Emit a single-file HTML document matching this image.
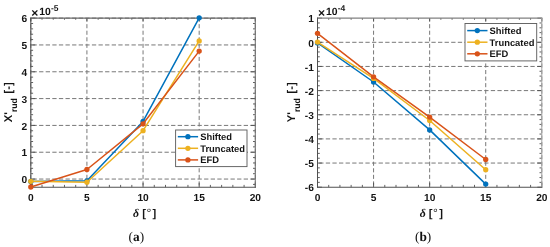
<!DOCTYPE html>
<html><head><meta charset="utf-8"><title>Figure</title>
<style>
html,body{margin:0;padding:0;background:#fff;}
svg{display:block}
text{font-family:"Liberation Sans",sans-serif;fill:#141414;text-rendering:geometricPrecision;}
.tk{font-size:10.2px;font-weight:bold;}
.lg{font-size:9.4px;font-weight:bold;}
.lb{font-size:11.2px;font-weight:bold;}
.dl{font-family:"Liberation Serif","DejaVu Serif",serif;font-style:italic;font-weight:bold;font-size:11.8px}
.cap{font-family:"Liberation Serif",serif;font-size:13.3px;fill:#111}
</style></head><body>
<svg width="550" height="247" viewBox="0 0 550 247">
<rect width="550" height="247" fill="#fff"/>
<g stroke="#787878" stroke-width="1" stroke-dasharray="4.1 2.45" stroke-dashoffset="0.5" fill="none"><line x1="30.80" y1="18.10" x2="30.80" y2="187.20"/><line x1="86.92" y1="18.10" x2="86.92" y2="187.20"/><line x1="143.05" y1="18.10" x2="143.05" y2="187.20"/><line x1="199.18" y1="18.10" x2="199.18" y2="187.20"/><line x1="255.30" y1="18.10" x2="255.30" y2="187.20"/></g>
<g stroke="#787878" stroke-width="1" stroke-dasharray="4.3 2.3" stroke-dashoffset="4.9" fill="none"><line x1="30.80" y1="179.05" x2="255.30" y2="179.05"/><line x1="30.80" y1="152.23" x2="255.30" y2="152.23"/><line x1="30.80" y1="125.41" x2="255.30" y2="125.41"/><line x1="30.80" y1="98.59" x2="255.30" y2="98.59"/><line x1="30.80" y1="71.77" x2="255.30" y2="71.77"/><line x1="30.80" y1="44.95" x2="255.30" y2="44.95"/><line x1="30.80" y1="18.13" x2="255.30" y2="18.13"/></g>
<g stroke="#505050" stroke-width="0.9" fill="none"><line x1="30.80" y1="187.20" x2="30.80" y2="182.80"/><line x1="30.80" y1="18.10" x2="30.80" y2="21.27"/><line x1="42.02" y1="187.20" x2="42.02" y2="184.90"/><line x1="42.02" y1="18.10" x2="42.02" y2="19.76"/><line x1="53.25" y1="187.20" x2="53.25" y2="184.90"/><line x1="53.25" y1="18.10" x2="53.25" y2="19.76"/><line x1="64.47" y1="187.20" x2="64.47" y2="184.90"/><line x1="64.47" y1="18.10" x2="64.47" y2="19.76"/><line x1="75.70" y1="187.20" x2="75.70" y2="184.90"/><line x1="75.70" y1="18.10" x2="75.70" y2="19.76"/><line x1="86.92" y1="187.20" x2="86.92" y2="182.80"/><line x1="86.92" y1="18.10" x2="86.92" y2="21.27"/><line x1="98.15" y1="187.20" x2="98.15" y2="184.90"/><line x1="98.15" y1="18.10" x2="98.15" y2="19.76"/><line x1="109.38" y1="187.20" x2="109.38" y2="184.90"/><line x1="109.38" y1="18.10" x2="109.38" y2="19.76"/><line x1="120.60" y1="187.20" x2="120.60" y2="184.90"/><line x1="120.60" y1="18.10" x2="120.60" y2="19.76"/><line x1="131.82" y1="187.20" x2="131.82" y2="184.90"/><line x1="131.82" y1="18.10" x2="131.82" y2="19.76"/><line x1="143.05" y1="187.20" x2="143.05" y2="182.80"/><line x1="143.05" y1="18.10" x2="143.05" y2="21.27"/><line x1="154.28" y1="187.20" x2="154.28" y2="184.90"/><line x1="154.28" y1="18.10" x2="154.28" y2="19.76"/><line x1="165.50" y1="187.20" x2="165.50" y2="184.90"/><line x1="165.50" y1="18.10" x2="165.50" y2="19.76"/><line x1="176.72" y1="187.20" x2="176.72" y2="184.90"/><line x1="176.72" y1="18.10" x2="176.72" y2="19.76"/><line x1="187.95" y1="187.20" x2="187.95" y2="184.90"/><line x1="187.95" y1="18.10" x2="187.95" y2="19.76"/><line x1="199.18" y1="187.20" x2="199.18" y2="182.80"/><line x1="199.18" y1="18.10" x2="199.18" y2="21.27"/><line x1="210.40" y1="187.20" x2="210.40" y2="184.90"/><line x1="210.40" y1="18.10" x2="210.40" y2="19.76"/><line x1="221.62" y1="187.20" x2="221.62" y2="184.90"/><line x1="221.62" y1="18.10" x2="221.62" y2="19.76"/><line x1="232.85" y1="187.20" x2="232.85" y2="184.90"/><line x1="232.85" y1="18.10" x2="232.85" y2="19.76"/><line x1="244.08" y1="187.20" x2="244.08" y2="184.90"/><line x1="244.08" y1="18.10" x2="244.08" y2="19.76"/><line x1="255.30" y1="187.20" x2="255.30" y2="182.80"/><line x1="255.30" y1="18.10" x2="255.30" y2="21.27"/><line x1="30.80" y1="184.41" x2="33.10" y2="184.41"/><line x1="255.30" y1="184.41" x2="253.00" y2="184.41"/><line x1="30.80" y1="179.05" x2="35.20" y2="179.05"/><line x1="255.30" y1="179.05" x2="250.90" y2="179.05"/><line x1="30.80" y1="173.69" x2="33.10" y2="173.69"/><line x1="255.30" y1="173.69" x2="253.00" y2="173.69"/><line x1="30.80" y1="168.32" x2="33.10" y2="168.32"/><line x1="255.30" y1="168.32" x2="253.00" y2="168.32"/><line x1="30.80" y1="162.96" x2="33.10" y2="162.96"/><line x1="255.30" y1="162.96" x2="253.00" y2="162.96"/><line x1="30.80" y1="157.59" x2="33.10" y2="157.59"/><line x1="255.30" y1="157.59" x2="253.00" y2="157.59"/><line x1="30.80" y1="152.23" x2="35.20" y2="152.23"/><line x1="255.30" y1="152.23" x2="250.90" y2="152.23"/><line x1="30.80" y1="146.87" x2="33.10" y2="146.87"/><line x1="255.30" y1="146.87" x2="253.00" y2="146.87"/><line x1="30.80" y1="141.50" x2="33.10" y2="141.50"/><line x1="255.30" y1="141.50" x2="253.00" y2="141.50"/><line x1="30.80" y1="136.14" x2="33.10" y2="136.14"/><line x1="255.30" y1="136.14" x2="253.00" y2="136.14"/><line x1="30.80" y1="130.77" x2="33.10" y2="130.77"/><line x1="255.30" y1="130.77" x2="253.00" y2="130.77"/><line x1="30.80" y1="125.41" x2="35.20" y2="125.41"/><line x1="255.30" y1="125.41" x2="250.90" y2="125.41"/><line x1="30.80" y1="120.05" x2="33.10" y2="120.05"/><line x1="255.30" y1="120.05" x2="253.00" y2="120.05"/><line x1="30.80" y1="114.68" x2="33.10" y2="114.68"/><line x1="255.30" y1="114.68" x2="253.00" y2="114.68"/><line x1="30.80" y1="109.32" x2="33.10" y2="109.32"/><line x1="255.30" y1="109.32" x2="253.00" y2="109.32"/><line x1="30.80" y1="103.95" x2="33.10" y2="103.95"/><line x1="255.30" y1="103.95" x2="253.00" y2="103.95"/><line x1="30.80" y1="98.59" x2="35.20" y2="98.59"/><line x1="255.30" y1="98.59" x2="250.90" y2="98.59"/><line x1="30.80" y1="93.23" x2="33.10" y2="93.23"/><line x1="255.30" y1="93.23" x2="253.00" y2="93.23"/><line x1="30.80" y1="87.86" x2="33.10" y2="87.86"/><line x1="255.30" y1="87.86" x2="253.00" y2="87.86"/><line x1="30.80" y1="82.50" x2="33.10" y2="82.50"/><line x1="255.30" y1="82.50" x2="253.00" y2="82.50"/><line x1="30.80" y1="77.13" x2="33.10" y2="77.13"/><line x1="255.30" y1="77.13" x2="253.00" y2="77.13"/><line x1="30.80" y1="71.77" x2="35.20" y2="71.77"/><line x1="255.30" y1="71.77" x2="250.90" y2="71.77"/><line x1="30.80" y1="66.41" x2="33.10" y2="66.41"/><line x1="255.30" y1="66.41" x2="253.00" y2="66.41"/><line x1="30.80" y1="61.04" x2="33.10" y2="61.04"/><line x1="255.30" y1="61.04" x2="253.00" y2="61.04"/><line x1="30.80" y1="55.68" x2="33.10" y2="55.68"/><line x1="255.30" y1="55.68" x2="253.00" y2="55.68"/><line x1="30.80" y1="50.31" x2="33.10" y2="50.31"/><line x1="255.30" y1="50.31" x2="253.00" y2="50.31"/><line x1="30.80" y1="44.95" x2="35.20" y2="44.95"/><line x1="255.30" y1="44.95" x2="250.90" y2="44.95"/><line x1="30.80" y1="39.59" x2="33.10" y2="39.59"/><line x1="255.30" y1="39.59" x2="253.00" y2="39.59"/><line x1="30.80" y1="34.22" x2="33.10" y2="34.22"/><line x1="255.30" y1="34.22" x2="253.00" y2="34.22"/><line x1="30.80" y1="28.86" x2="33.10" y2="28.86"/><line x1="255.30" y1="28.86" x2="253.00" y2="28.86"/><line x1="30.80" y1="23.49" x2="33.10" y2="23.49"/><line x1="255.30" y1="23.49" x2="253.00" y2="23.49"/><line x1="30.80" y1="18.13" x2="35.20" y2="18.13"/><line x1="255.30" y1="18.13" x2="250.90" y2="18.13"/></g>
<g fill="none" stroke-width="1.05" stroke-linecap="square"><line x1="30.80" y1="18.10" x2="255.30" y2="18.10" stroke="#6a6a6a"/><line x1="255.30" y1="18.10" x2="255.30" y2="187.20" stroke="#707070"/><line x1="30.80" y1="18.10" x2="30.80" y2="187.20" stroke="#505050"/><line x1="30.80" y1="187.20" x2="255.30" y2="187.20" stroke="#505050"/></g>
<polyline points="30.80,181.40 86.92,180.80 143.05,121.40 199.18,17.80" fill="none" stroke="#0072BD" stroke-width="1.5" stroke-linejoin="round"/>
<circle cx="30.80" cy="181.40" r="2.65" fill="#0072BD"/>
<circle cx="86.92" cy="180.80" r="2.65" fill="#0072BD"/>
<circle cx="143.05" cy="121.40" r="2.65" fill="#0072BD"/>
<circle cx="199.18" cy="17.80" r="2.65" fill="#0072BD"/>
<polyline points="30.80,181.30 86.92,182.20 143.05,130.70 199.18,40.90" fill="none" stroke="#EDB120" stroke-width="1.5" stroke-linejoin="round"/>
<circle cx="30.80" cy="181.30" r="2.65" fill="#EDB120"/>
<circle cx="86.92" cy="182.20" r="2.65" fill="#EDB120"/>
<circle cx="143.05" cy="130.70" r="2.65" fill="#EDB120"/>
<circle cx="199.18" cy="40.90" r="2.65" fill="#EDB120"/>
<polyline points="30.80,187.00 86.92,169.50 143.05,123.80 199.18,51.10" fill="none" stroke="#D95319" stroke-width="1.5" stroke-linejoin="round"/>
<circle cx="30.80" cy="187.00" r="2.65" fill="#D95319"/>
<circle cx="86.92" cy="169.50" r="2.65" fill="#D95319"/>
<circle cx="143.05" cy="123.80" r="2.65" fill="#D95319"/>
<circle cx="199.18" cy="51.10" r="2.65" fill="#D95319"/>
<g class="tk"><text x="30.80" y="201.15" text-anchor="middle">0</text><text x="86.92" y="201.15" text-anchor="middle">5</text><text x="143.05" y="201.15" text-anchor="middle">10</text><text x="199.18" y="201.15" text-anchor="middle">15</text><text x="255.30" y="201.15" text-anchor="middle">20</text><text x="27.20" y="183.30" text-anchor="end">0</text><text x="27.20" y="156.48" text-anchor="end">1</text><text x="27.20" y="129.66" text-anchor="end">2</text><text x="27.20" y="102.84" text-anchor="end">3</text><text x="27.20" y="76.02" text-anchor="end">4</text><text x="27.20" y="49.20" text-anchor="end">5</text><text x="27.20" y="22.38" text-anchor="end">6</text></g>
<text class="tk" x="31.20" y="16.50" style="font-size:12.2px">×</text><text class="tk" x="39.30" y="15.30" style="font-size:10.4px">10</text><text class="tk" x="51.00" y="10.70" style="font-size:8.5px">-5</text>
<text class="lb" x="144.65" y="216.60" text-anchor="middle"><tspan class="dl">δ</tspan> [<tspan font-weight="normal" dx="0.5" dy="0.8" style="font-size:12px">°</tspan><tspan dx="1.3" dy="-0.8">]</tspan></text>
<text class="lb" transform="translate(12.10,102.25) rotate(-90)" text-anchor="middle">X'<tspan dy="5.0" font-size="8.7">rud</tspan><tspan dy="-5.0" dx="1.5"> [-]</tspan></text>
<rect x="175.60" y="130.00" width="71.40" height="36.60" fill="#fff" stroke="#606060" stroke-width="0.95"/>
<line x1="177.80" y1="136.70" x2="198.10" y2="136.70" stroke="#0072BD" stroke-width="1.5"/>
<circle cx="187.90" cy="136.70" r="2.65" fill="#0072BD"/>
<text class="lg" x="200.20" y="140.00">Shifted</text>
<line x1="177.80" y1="148.30" x2="198.10" y2="148.30" stroke="#EDB120" stroke-width="1.5"/>
<circle cx="187.90" cy="148.30" r="2.65" fill="#EDB120"/>
<text class="lg" x="200.20" y="151.60">Truncated</text>
<line x1="177.80" y1="159.90" x2="198.10" y2="159.90" stroke="#D95319" stroke-width="1.5"/>
<circle cx="187.90" cy="159.90" r="2.65" fill="#D95319"/>
<text class="lg" x="200.20" y="163.20">EFD</text>
<g stroke="#787878" stroke-width="1" stroke-dasharray="4.1 2.45" stroke-dashoffset="0.5" fill="none"><line x1="317.50" y1="18.10" x2="317.50" y2="187.20"/><line x1="373.57" y1="18.10" x2="373.57" y2="187.20"/><line x1="429.65" y1="18.10" x2="429.65" y2="187.20"/><line x1="485.72" y1="18.10" x2="485.72" y2="187.20"/><line x1="541.80" y1="18.10" x2="541.80" y2="187.20"/></g>
<g stroke="#787878" stroke-width="1" stroke-dasharray="4.3 2.3" stroke-dashoffset="4.9" fill="none"><line x1="317.50" y1="163.05" x2="541.80" y2="163.05"/><line x1="317.50" y1="138.90" x2="541.80" y2="138.90"/><line x1="317.50" y1="114.75" x2="541.80" y2="114.75"/><line x1="317.50" y1="90.60" x2="541.80" y2="90.60"/><line x1="317.50" y1="66.45" x2="541.80" y2="66.45"/><line x1="317.50" y1="42.30" x2="541.80" y2="42.30"/></g>
<g stroke="#505050" stroke-width="0.9" fill="none"><line x1="317.50" y1="187.20" x2="317.50" y2="182.80"/><line x1="317.50" y1="18.10" x2="317.50" y2="21.27"/><line x1="328.71" y1="187.20" x2="328.71" y2="184.90"/><line x1="328.71" y1="18.10" x2="328.71" y2="19.76"/><line x1="339.93" y1="187.20" x2="339.93" y2="184.90"/><line x1="339.93" y1="18.10" x2="339.93" y2="19.76"/><line x1="351.14" y1="187.20" x2="351.14" y2="184.90"/><line x1="351.14" y1="18.10" x2="351.14" y2="19.76"/><line x1="362.36" y1="187.20" x2="362.36" y2="184.90"/><line x1="362.36" y1="18.10" x2="362.36" y2="19.76"/><line x1="373.57" y1="187.20" x2="373.57" y2="182.80"/><line x1="373.57" y1="18.10" x2="373.57" y2="21.27"/><line x1="384.79" y1="187.20" x2="384.79" y2="184.90"/><line x1="384.79" y1="18.10" x2="384.79" y2="19.76"/><line x1="396.00" y1="187.20" x2="396.00" y2="184.90"/><line x1="396.00" y1="18.10" x2="396.00" y2="19.76"/><line x1="407.22" y1="187.20" x2="407.22" y2="184.90"/><line x1="407.22" y1="18.10" x2="407.22" y2="19.76"/><line x1="418.44" y1="187.20" x2="418.44" y2="184.90"/><line x1="418.44" y1="18.10" x2="418.44" y2="19.76"/><line x1="429.65" y1="187.20" x2="429.65" y2="182.80"/><line x1="429.65" y1="18.10" x2="429.65" y2="21.27"/><line x1="440.87" y1="187.20" x2="440.87" y2="184.90"/><line x1="440.87" y1="18.10" x2="440.87" y2="19.76"/><line x1="452.08" y1="187.20" x2="452.08" y2="184.90"/><line x1="452.08" y1="18.10" x2="452.08" y2="19.76"/><line x1="463.29" y1="187.20" x2="463.29" y2="184.90"/><line x1="463.29" y1="18.10" x2="463.29" y2="19.76"/><line x1="474.51" y1="187.20" x2="474.51" y2="184.90"/><line x1="474.51" y1="18.10" x2="474.51" y2="19.76"/><line x1="485.72" y1="187.20" x2="485.72" y2="182.80"/><line x1="485.72" y1="18.10" x2="485.72" y2="21.27"/><line x1="496.94" y1="187.20" x2="496.94" y2="184.90"/><line x1="496.94" y1="18.10" x2="496.94" y2="19.76"/><line x1="508.15" y1="187.20" x2="508.15" y2="184.90"/><line x1="508.15" y1="18.10" x2="508.15" y2="19.76"/><line x1="519.37" y1="187.20" x2="519.37" y2="184.90"/><line x1="519.37" y1="18.10" x2="519.37" y2="19.76"/><line x1="530.58" y1="187.20" x2="530.58" y2="184.90"/><line x1="530.58" y1="18.10" x2="530.58" y2="19.76"/><line x1="541.80" y1="187.20" x2="541.80" y2="182.80"/><line x1="541.80" y1="18.10" x2="541.80" y2="21.27"/><line x1="317.50" y1="187.20" x2="321.90" y2="187.20"/><line x1="541.80" y1="187.20" x2="537.40" y2="187.20"/><line x1="317.50" y1="182.37" x2="319.80" y2="182.37"/><line x1="541.80" y1="182.37" x2="539.50" y2="182.37"/><line x1="317.50" y1="177.54" x2="319.80" y2="177.54"/><line x1="541.80" y1="177.54" x2="539.50" y2="177.54"/><line x1="317.50" y1="172.71" x2="319.80" y2="172.71"/><line x1="541.80" y1="172.71" x2="539.50" y2="172.71"/><line x1="317.50" y1="167.88" x2="319.80" y2="167.88"/><line x1="541.80" y1="167.88" x2="539.50" y2="167.88"/><line x1="317.50" y1="163.05" x2="321.90" y2="163.05"/><line x1="541.80" y1="163.05" x2="537.40" y2="163.05"/><line x1="317.50" y1="158.22" x2="319.80" y2="158.22"/><line x1="541.80" y1="158.22" x2="539.50" y2="158.22"/><line x1="317.50" y1="153.39" x2="319.80" y2="153.39"/><line x1="541.80" y1="153.39" x2="539.50" y2="153.39"/><line x1="317.50" y1="148.56" x2="319.80" y2="148.56"/><line x1="541.80" y1="148.56" x2="539.50" y2="148.56"/><line x1="317.50" y1="143.73" x2="319.80" y2="143.73"/><line x1="541.80" y1="143.73" x2="539.50" y2="143.73"/><line x1="317.50" y1="138.90" x2="321.90" y2="138.90"/><line x1="541.80" y1="138.90" x2="537.40" y2="138.90"/><line x1="317.50" y1="134.07" x2="319.80" y2="134.07"/><line x1="541.80" y1="134.07" x2="539.50" y2="134.07"/><line x1="317.50" y1="129.24" x2="319.80" y2="129.24"/><line x1="541.80" y1="129.24" x2="539.50" y2="129.24"/><line x1="317.50" y1="124.41" x2="319.80" y2="124.41"/><line x1="541.80" y1="124.41" x2="539.50" y2="124.41"/><line x1="317.50" y1="119.58" x2="319.80" y2="119.58"/><line x1="541.80" y1="119.58" x2="539.50" y2="119.58"/><line x1="317.50" y1="114.75" x2="321.90" y2="114.75"/><line x1="541.80" y1="114.75" x2="537.40" y2="114.75"/><line x1="317.50" y1="109.92" x2="319.80" y2="109.92"/><line x1="541.80" y1="109.92" x2="539.50" y2="109.92"/><line x1="317.50" y1="105.09" x2="319.80" y2="105.09"/><line x1="541.80" y1="105.09" x2="539.50" y2="105.09"/><line x1="317.50" y1="100.26" x2="319.80" y2="100.26"/><line x1="541.80" y1="100.26" x2="539.50" y2="100.26"/><line x1="317.50" y1="95.43" x2="319.80" y2="95.43"/><line x1="541.80" y1="95.43" x2="539.50" y2="95.43"/><line x1="317.50" y1="90.60" x2="321.90" y2="90.60"/><line x1="541.80" y1="90.60" x2="537.40" y2="90.60"/><line x1="317.50" y1="85.77" x2="319.80" y2="85.77"/><line x1="541.80" y1="85.77" x2="539.50" y2="85.77"/><line x1="317.50" y1="80.94" x2="319.80" y2="80.94"/><line x1="541.80" y1="80.94" x2="539.50" y2="80.94"/><line x1="317.50" y1="76.11" x2="319.80" y2="76.11"/><line x1="541.80" y1="76.11" x2="539.50" y2="76.11"/><line x1="317.50" y1="71.28" x2="319.80" y2="71.28"/><line x1="541.80" y1="71.28" x2="539.50" y2="71.28"/><line x1="317.50" y1="66.45" x2="321.90" y2="66.45"/><line x1="541.80" y1="66.45" x2="537.40" y2="66.45"/><line x1="317.50" y1="61.62" x2="319.80" y2="61.62"/><line x1="541.80" y1="61.62" x2="539.50" y2="61.62"/><line x1="317.50" y1="56.79" x2="319.80" y2="56.79"/><line x1="541.80" y1="56.79" x2="539.50" y2="56.79"/><line x1="317.50" y1="51.96" x2="319.80" y2="51.96"/><line x1="541.80" y1="51.96" x2="539.50" y2="51.96"/><line x1="317.50" y1="47.13" x2="319.80" y2="47.13"/><line x1="541.80" y1="47.13" x2="539.50" y2="47.13"/><line x1="317.50" y1="42.30" x2="321.90" y2="42.30"/><line x1="541.80" y1="42.30" x2="537.40" y2="42.30"/><line x1="317.50" y1="37.47" x2="319.80" y2="37.47"/><line x1="541.80" y1="37.47" x2="539.50" y2="37.47"/><line x1="317.50" y1="32.64" x2="319.80" y2="32.64"/><line x1="541.80" y1="32.64" x2="539.50" y2="32.64"/><line x1="317.50" y1="27.81" x2="319.80" y2="27.81"/><line x1="541.80" y1="27.81" x2="539.50" y2="27.81"/><line x1="317.50" y1="22.98" x2="319.80" y2="22.98"/><line x1="541.80" y1="22.98" x2="539.50" y2="22.98"/><line x1="317.50" y1="18.15" x2="321.90" y2="18.15"/><line x1="541.80" y1="18.15" x2="537.40" y2="18.15"/></g>
<g fill="none" stroke-width="1.05" stroke-linecap="square"><line x1="317.50" y1="18.10" x2="541.80" y2="18.10" stroke="#808080"/><line x1="541.80" y1="18.10" x2="541.80" y2="187.20" stroke="#a6a6a6"/><line x1="317.50" y1="18.10" x2="317.50" y2="187.20" stroke="#505050"/><line x1="317.50" y1="187.20" x2="541.80" y2="187.20" stroke="#505050"/></g>
<polyline points="317.50,42.90 373.57,82.00 429.65,129.90 485.72,184.10" fill="none" stroke="#0072BD" stroke-width="1.5" stroke-linejoin="round"/>
<circle cx="317.50" cy="42.90" r="2.65" fill="#0072BD"/>
<circle cx="373.57" cy="82.00" r="2.65" fill="#0072BD"/>
<circle cx="429.65" cy="129.90" r="2.65" fill="#0072BD"/>
<circle cx="485.72" cy="184.10" r="2.65" fill="#0072BD"/>
<polyline points="317.50,42.10 373.57,78.40 429.65,120.50 485.72,169.70" fill="none" stroke="#EDB120" stroke-width="1.5" stroke-linejoin="round"/>
<circle cx="317.50" cy="42.10" r="2.65" fill="#EDB120"/>
<circle cx="373.57" cy="78.40" r="2.65" fill="#EDB120"/>
<circle cx="429.65" cy="120.50" r="2.65" fill="#EDB120"/>
<circle cx="485.72" cy="169.70" r="2.65" fill="#EDB120"/>
<polyline points="317.50,33.30 373.57,76.80 429.65,117.10 485.72,159.50" fill="none" stroke="#D95319" stroke-width="1.5" stroke-linejoin="round"/>
<circle cx="317.50" cy="33.30" r="2.65" fill="#D95319"/>
<circle cx="373.57" cy="76.80" r="2.65" fill="#D95319"/>
<circle cx="429.65" cy="117.10" r="2.65" fill="#D95319"/>
<circle cx="485.72" cy="159.50" r="2.65" fill="#D95319"/>
<g class="tk"><text x="317.50" y="201.15" text-anchor="middle">0</text><text x="373.57" y="201.15" text-anchor="middle">5</text><text x="429.65" y="201.15" text-anchor="middle">10</text><text x="485.72" y="201.15" text-anchor="middle">15</text><text x="541.80" y="201.15" text-anchor="middle">20</text><text x="313.90" y="191.45" text-anchor="end">-6</text><text x="313.90" y="167.30" text-anchor="end">-5</text><text x="313.90" y="143.15" text-anchor="end">-4</text><text x="313.90" y="119.00" text-anchor="end">-3</text><text x="313.90" y="94.85" text-anchor="end">-2</text><text x="313.90" y="70.70" text-anchor="end">-1</text><text x="313.90" y="46.55" text-anchor="end">0</text><text x="313.90" y="22.40" text-anchor="end">1</text></g>
<text class="tk" x="317.90" y="16.50" style="font-size:12.2px">×</text><text class="tk" x="326.00" y="15.30" style="font-size:10.4px">10</text><text class="tk" x="337.70" y="10.70" style="font-size:8.5px">-4</text>
<text class="lb" x="431.25" y="216.60" text-anchor="middle"><tspan class="dl">δ</tspan> [<tspan font-weight="normal" dx="0.5" dy="0.8" style="font-size:12px">°</tspan><tspan dx="1.3" dy="-0.8">]</tspan></text>
<text class="lb" transform="translate(295.40,102.25) rotate(-90)" text-anchor="middle">Y'<tspan dy="5.0" font-size="8.7">rud</tspan><tspan dy="-5.0" dx="1.5"> [-]</tspan></text>
<rect x="465.00" y="23.50" width="71.70" height="37.40" fill="#fff" stroke="#606060" stroke-width="0.95"/>
<line x1="467.20" y1="30.60" x2="487.50" y2="30.60" stroke="#0072BD" stroke-width="1.5"/>
<circle cx="477.30" cy="30.60" r="2.65" fill="#0072BD"/>
<text class="lg" x="489.60" y="33.90">Shifted</text>
<line x1="467.20" y1="42.20" x2="487.50" y2="42.20" stroke="#EDB120" stroke-width="1.5"/>
<circle cx="477.30" cy="42.20" r="2.65" fill="#EDB120"/>
<text class="lg" x="489.60" y="45.50">Truncated</text>
<line x1="467.20" y1="53.80" x2="487.50" y2="53.80" stroke="#D95319" stroke-width="1.5"/>
<circle cx="477.30" cy="53.80" r="2.65" fill="#D95319"/>
<text class="lg" x="489.60" y="57.10">EFD</text>
<text class="cap" x="136.3" y="241.0" text-anchor="middle">(<tspan font-weight="bold">a</tspan>)</text>
<text class="cap" x="423.1" y="241.0" text-anchor="middle">(<tspan font-weight="bold">b</tspan>)</text>
</svg>
</body></html>
